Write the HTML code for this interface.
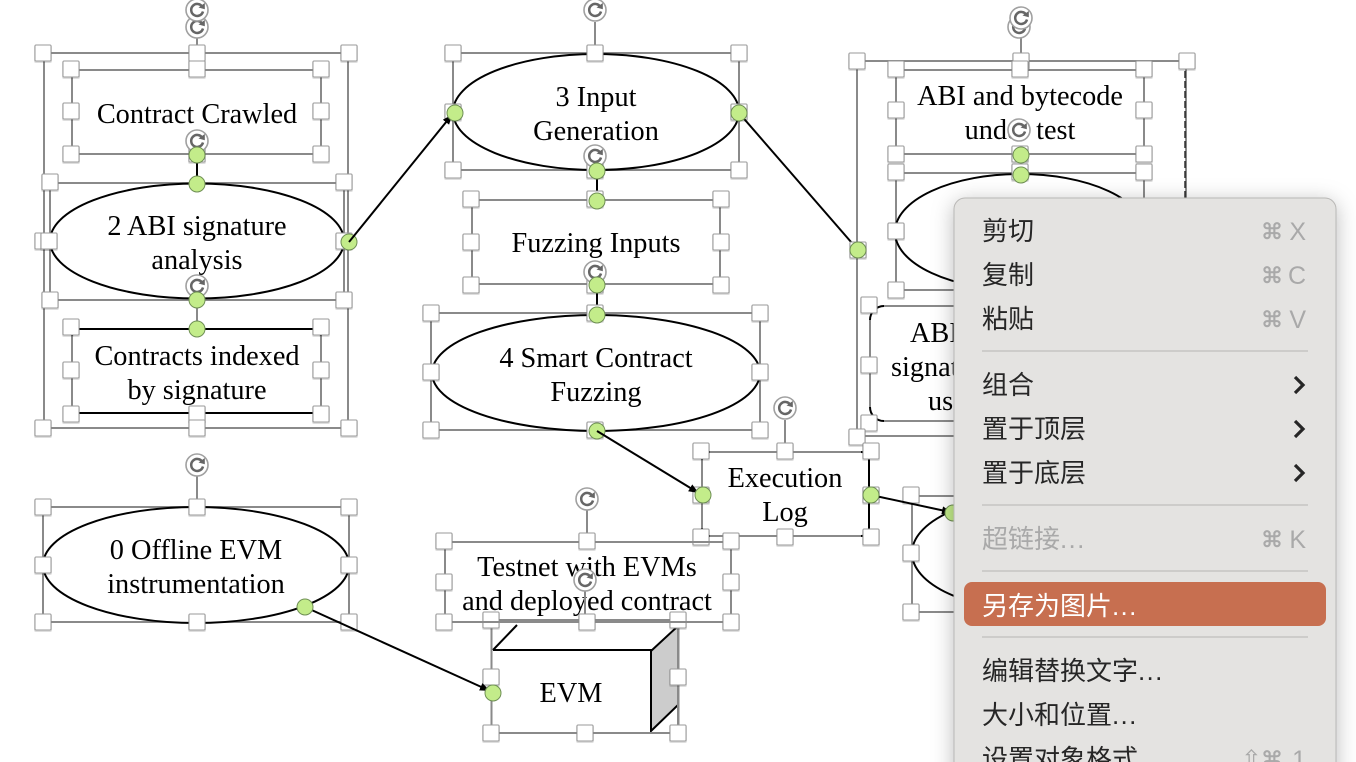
<!DOCTYPE html>
<html><head><meta charset="utf-8"><style>
html,body{margin:0;padding:0;background:#fff;width:1356px;height:762px;overflow:hidden}
svg{display:block}
.t{font-family:"Liberation Serif",serif;font-size:28.3px;fill:#000;text-anchor:middle}
.s{font-family:"Liberation Serif",serif;font-size:28.3px;fill:#000}
.b{fill:none;stroke:#8a8a8a;stroke-width:2}
.w{fill:#fff;stroke:#000;stroke-width:2}
.l{stroke:#000;stroke-width:2;fill:none}
.m{font-family:"Liberation Sans","Noto Sans CJK SC",sans-serif;font-size:26px;fill:#262626}
.g{font-family:"Liberation Sans","DejaVu Sans",sans-serif;font-size:25px;fill:#a9a9a9;text-anchor:end}
.k{font-family:"DejaVu Sans",sans-serif;font-size:22px;fill:#a9a9a9;stroke:#a9a9a9;stroke-width:.5;text-anchor:end}
.d{letter-spacing:1.3px}
.sep{stroke:#cdccca;stroke-width:2}
.c{fill:none;stroke:#262626;stroke-width:3.2}
</style></head><body>
<svg width="1356" height="762" viewBox="0 0 1356 762" xmlns="http://www.w3.org/2000/svg">
<defs>
<g id="h"><rect x="-9" y="-8" width="18" height="18" rx="2" fill="#000" opacity=".13"/><rect x="-8" y="-8" width="16" height="16" rx="1" fill="#fff" stroke="#9a9a9a" stroke-width="1"/></g>
<circle id="o" r="8" fill="#c3ec8a" stroke="#6f8f55" stroke-width="1"/>
<g id="r"><circle r="11" fill="#fff" stroke="#a0a0a0" stroke-width="1.6"/><path d="M5.2 -3.4A6 6 0 1 0 6 1.5" fill="none" stroke="#666" stroke-width="2.5"/><path d="M1.5 -2.5L7.8 -0.8L7.8 -7Z" fill="#666"/></g>
<marker id="a" markerWidth="10" markerHeight="8" refX="8" refY="4" orient="auto" markerUnits="userSpaceOnUse"><path d="M0 0L10 4L0 8Z" fill="#000"/></marker>
<filter id="sh" x="-20%" y="-20%" width="140%" height="140%"><feDropShadow dx="0" dy="4" stdDeviation="11" flood-color="#000" flood-opacity=".28"/></filter>
</defs>
<rect width="1356" height="762" fill="#fff"/>

<!-- Left group -->
<line class="b" x1="197" y1="16" x2="197" y2="53"/>
<rect class="b" x="44" y="53" width="304" height="375"/>
<rect class="w" x="72" y="70" width="249" height="84" rx="8"/>
<rect class="b" x="72" y="70" width="249" height="84"/>
<text class="t" x="197" y="123">Contract Crawled</text>
<line class="l" x1="197" y1="155" x2="197" y2="184"/>
<rect class="b" x="50" y="183" width="294" height="117"/>
<ellipse class="w" cx="197" cy="241" rx="147" ry="57.5"/>
<text class="t" x="197" y="235">2 ABI signature</text>
<text class="t" x="197" y="269">analysis</text>
<line class="b" x1="197" y1="300" x2="197" y2="329"/>
<rect class="w" x="72" y="329" width="249" height="84" rx="8"/>
<line class="b" x1="72" y1="336" x2="72" y2="406"/><line class="b" x1="321" y1="336" x2="321" y2="406"/>
<text class="t" x="197" y="365">Contracts indexed</text>
<text class="t" x="197" y="399">by signature</text>
<use href="#h" x="43" y="53"/><use href="#h" x="197" y="53"/><use href="#h" x="349" y="53"/>
<use href="#h" x="71" y="69"/><use href="#h" x="197" y="69"/><use href="#h" x="321" y="69"/>
<use href="#h" x="71" y="111"/><use href="#h" x="321" y="111"/>
<use href="#h" x="71" y="154"/><use href="#h" x="197" y="154"/><use href="#h" x="321" y="154"/>
<use href="#h" x="50" y="182"/><use href="#h" x="344" y="182"/>
<use href="#h" x="43" y="241"/><use href="#h" x="49" y="241"/><use href="#h" x="344" y="241"/>
<use href="#h" x="50" y="300"/><use href="#h" x="344" y="300"/>
<use href="#h" x="71" y="327"/><use href="#h" x="321" y="327"/>
<use href="#h" x="71" y="370"/><use href="#h" x="321" y="370"/>
<use href="#h" x="71" y="414"/><use href="#h" x="197" y="414"/><use href="#h" x="321" y="414"/>
<use href="#h" x="43" y="428"/><use href="#h" x="197" y="428"/><use href="#h" x="349" y="428"/>
<use href="#r" x="197" y="27"/><use href="#r" x="197" y="10"/>
<use href="#r" x="197" y="141"/><use href="#r" x="197" y="286"/>
<use href="#o" x="197" y="155"/><use href="#o" x="197" y="184"/><use href="#o" x="197" y="300"/><use href="#o" x="197" y="329"/><use href="#o" x="349" y="242"/>

<!-- Middle column -->
<line class="b" x1="595" y1="22" x2="595" y2="53"/>
<rect class="b" x="453" y="53" width="286" height="117"/>
<ellipse class="w" cx="596" cy="112" rx="143" ry="58"/>
<text class="t" x="596" y="106">3 Input</text>
<text class="t" x="596" y="140">Generation</text>
<line class="l" x1="597" y1="170" x2="597" y2="201"/>
<rect class="w" x="472" y="200" width="248" height="84" rx="8"/>
<rect class="b" x="472" y="200" width="248" height="84"/>
<text class="t" x="596" y="252">Fuzzing Inputs</text>
<line class="l" x1="597" y1="285" x2="597" y2="315"/>
<rect class="b" x="431" y="313" width="329" height="117"/>
<ellipse class="w" cx="596" cy="373" rx="164" ry="58"/>
<text class="t" x="596" y="367">4 Smart Contract</text>
<text class="t" x="596" y="401">Fuzzing</text>
<use href="#h" x="453" y="53"/><use href="#h" x="595" y="53"/><use href="#h" x="739" y="53"/>
<use href="#h" x="453" y="112"/><use href="#h" x="739" y="112"/>
<use href="#h" x="453" y="170"/><use href="#h" x="595" y="170"/><use href="#h" x="739" y="170"/>
<use href="#h" x="471" y="199"/><use href="#h" x="595" y="199"/><use href="#h" x="721" y="199"/>
<use href="#h" x="471" y="242"/><use href="#h" x="721" y="242"/>
<use href="#h" x="471" y="285"/><use href="#h" x="595" y="285"/><use href="#h" x="721" y="285"/>
<use href="#h" x="431" y="313"/><use href="#h" x="595" y="313"/><use href="#h" x="760" y="313"/>
<use href="#h" x="431" y="372"/><use href="#h" x="760" y="372"/>
<use href="#h" x="431" y="430"/><use href="#h" x="595" y="430"/><use href="#h" x="760" y="430"/>
<use href="#r" x="595" y="10"/><use href="#r" x="595" y="156"/><use href="#r" x="595" y="272"/>

<!-- Connectors upper -->
<line class="l" x1="349" y1="242" x2="451" y2="116" marker-end="url(#a)"/>
<line class="l" x1="739" y1="113" x2="858" y2="250"/>
<use href="#o" x="455" y="113"/><use href="#o" x="739" y="113"/><use href="#o" x="597" y="171"/><use href="#o" x="597" y="201"/><use href="#o" x="597" y="285"/><use href="#o" x="597" y="315"/><use href="#o" x="597" y="431"/>

<!-- Right group -->
<line class="b" x1="1021" y1="30" x2="1021" y2="61"/>
<rect class="b" x="857" y="61" width="329" height="375"/>
<line x1="1185" y1="61" x2="1185" y2="200" stroke="#000" stroke-width="1.2" stroke-dasharray="7 3"/>
<rect class="w" x="896" y="70" width="248" height="84" rx="8"/>
<rect class="b" x="896" y="70" width="248" height="84"/>
<text class="t" x="1020" y="105">ABI and bytecode</text>
<text class="t" x="1020" y="139">under test</text>
<line class="l" x1="1021" y1="155" x2="1021" y2="175"/>
<rect class="b" x="896" y="173" width="248" height="117"/>
<ellipse class="w" cx="1020" cy="232" rx="125" ry="58"/>
<rect class="w" x="870" y="306" width="300" height="115" rx="14"/>
<line class="b" x1="884" y1="306" x2="1000" y2="306"/><line class="b" x1="884" y1="421" x2="1000" y2="421"/><line class="b" x1="870" y1="320" x2="870" y2="407"/>
<text class="s" x="910" y="342">ABI</text>
<text class="s" x="891" y="376">signatures</text>
<text class="s" x="928" y="410">used</text>
<line class="b" x1="857" y1="436" x2="1000" y2="436"/>
<use href="#h" x="857" y="61"/><use href="#h" x="1021" y="61"/><use href="#h" x="1187" y="61"/>
<use href="#h" x="896" y="69"/><use href="#h" x="1020" y="69"/><use href="#h" x="1144" y="69"/>
<use href="#h" x="896" y="110"/><use href="#h" x="1144" y="110"/>
<use href="#h" x="896" y="154"/><use href="#h" x="1020" y="154"/><use href="#h" x="1144" y="154"/>
<use href="#h" x="896" y="172"/><use href="#h" x="1020" y="172"/><use href="#h" x="1144" y="172"/>
<use href="#h" x="896" y="231"/><use href="#h" x="896" y="290"/>
<use href="#h" x="869" y="305"/><use href="#h" x="869" y="365"/><use href="#h" x="869" y="423"/>
<use href="#h" x="857" y="437"/>
<use href="#r" x="1019" y="27"/><use href="#r" x="1021" y="18"/><use href="#r" x="1019" y="130"/>
<use href="#o" x="1021" y="155"/><use href="#o" x="1021" y="175"/><use href="#h" x="858" y="250"/><use href="#o" x="858" y="250"/>

<!-- Execution log -->
<line class="b" x1="785" y1="420" x2="785" y2="451"/>
<rect class="w" x="702" y="452" width="167" height="84" rx="8"/>
<line class="b" x1="710" y1="452" x2="861" y2="452"/><line class="b" x1="710" y1="536" x2="861" y2="536"/><line class="b" x1="702" y1="460" x2="702" y2="528"/>
<text class="t" x="785" y="487">Execution</text>
<text class="t" x="785" y="521">Log</text>
<use href="#h" x="701" y="451"/><use href="#h" x="785" y="451"/><use href="#h" x="871" y="451"/>
<use href="#h" x="701" y="495"/><use href="#h" x="871" y="495"/>
<use href="#h" x="701" y="537"/><use href="#h" x="785" y="537"/><use href="#h" x="871" y="537"/>
<use href="#r" x="785" y="408"/>
<line class="l" x1="597" y1="431" x2="697" y2="492" marker-end="url(#a)"/>

<!-- Far right ellipse -->
<rect class="b" x="912" y="496" width="240" height="116"/>
<ellipse class="w" cx="1040" cy="553" rx="128" ry="58"/>
<use href="#h" x="911" y="495"/><use href="#h" x="911" y="553"/><use href="#h" x="911" y="612"/>
<line class="l" x1="871" y1="495" x2="950" y2="512" marker-end="url(#a)"/>
<use href="#o" x="703" y="495"/><use href="#o" x="871" y="495"/><use href="#o" x="953" y="513"/>

<!-- Offline EVM -->
<line class="b" x1="197" y1="476" x2="197" y2="507"/>
<rect class="b" x="43" y="507" width="306" height="115"/>
<ellipse class="w" cx="196" cy="565" rx="153" ry="58"/>
<text class="t" x="196" y="559">0 Offline EVM</text>
<text class="t" x="196" y="593">instrumentation</text>
<use href="#h" x="43" y="507"/><use href="#h" x="197" y="507"/><use href="#h" x="349" y="507"/>
<use href="#h" x="43" y="565"/><use href="#h" x="349" y="565"/>
<use href="#h" x="43" y="622"/><use href="#h" x="197" y="622"/><use href="#h" x="349" y="622"/>
<use href="#r" x="197" y="465"/>

<!-- EVM cube -->
<rect class="b" x="491.5" y="620" width="187" height="113"/>
<path d="M651 651L678 626V705L651 731Z" fill="#cccccc" stroke="#000" stroke-width="2"/>
<line class="b" x1="678" y1="620" x2="678" y2="733"/>
<path d="M493 650L517 625" class="l"/>
<rect x="493" y="650" width="158" height="81" fill="#fff"/>
<path d="M493 650H651V731" class="l"/>
<line class="b" x1="491.5" y1="650" x2="491.5" y2="733"/>
<line class="b" x1="491" y1="733" x2="678" y2="733"/>
<text class="t" x="571" y="702">EVM</text>
<use href="#h" x="491" y="620"/><use href="#h" x="678" y="620"/>
<use href="#h" x="491" y="677"/><use href="#h" x="678" y="677"/>
<use href="#h" x="491" y="733"/><use href="#h" x="585" y="733"/><use href="#h" x="678" y="733"/>

<!-- Testnet -->
<line class="b" x1="587" y1="510" x2="587" y2="541"/>
<rect class="b" x="445" y="542" width="286" height="80"/>
<text class="t" x="587" y="576">Testnet with EVMs</text>
<text class="t" x="587" y="610">and deployed contract</text>
<line class="b" x1="585" y1="590" x2="585" y2="622"/>
<use href="#h" x="444" y="541"/><use href="#h" x="587" y="541"/><use href="#h" x="731" y="541"/>
<use href="#h" x="444" y="582"/><use href="#h" x="731" y="582"/>
<use href="#h" x="444" y="622"/><use href="#h" x="587" y="622"/><use href="#h" x="731" y="622"/>
<use href="#r" x="587" y="499"/><use href="#r" x="585" y="580"/>

<line class="l" x1="305" y1="607" x2="488" y2="690" marker-end="url(#a)"/>
<use href="#o" x="305" y="607"/><use href="#o" x="493" y="693"/>

<!-- Context menu -->
<rect x="954" y="198" width="382" height="590" rx="11" fill="#e4e3e1" filter="url(#sh)"/>
<rect x="954" y="198" width="382" height="590" rx="11" fill="#e4e3e1" stroke="#b9b8b6" stroke-width="1"/>
<text class="m" x="982" y="240">剪切</text><text class="k" x="1283" y="239">⌘</text><text class="g" x="1306" y="240">X</text>
<text class="m" x="982" y="284">复制</text><text class="k" x="1283" y="283">⌘</text><text class="g" x="1306" y="284">C</text>
<text class="m" x="982" y="328">粘贴</text><text class="k" x="1283" y="327">⌘</text><text class="g" x="1306" y="328">V</text>
<line class="sep" x1="982" y1="351" x2="1308" y2="351"/>
<text class="m" x="982" y="394">组合</text><path class="c" d="M1295 377L1303 385L1295 393"/>
<text class="m" x="982" y="438">置于顶层</text><path class="c" d="M1295 421L1303 429L1295 437"/>
<text class="m" x="982" y="482">置于底层</text><path class="c" d="M1295 465L1303 473L1295 481"/>
<line class="sep" x1="982" y1="505" x2="1308" y2="505"/>
<text class="m" x="982" y="548" style="fill:#a9a9a9">超链接<tspan class="d">...</tspan></text><text class="k" x="1283" y="547">⌘</text><text class="g" x="1306" y="548">K</text>
<line class="sep" x1="982" y1="571" x2="1308" y2="571"/>
<rect x="964" y="582" width="362" height="44" rx="8" fill="#c76f50"/>
<text class="m" x="982" y="615" style="fill:#fff">另存为图片<tspan class="d">...</tspan></text>
<line class="sep" x1="982" y1="637" x2="1308" y2="637"/>
<text class="m" x="982" y="680">编辑替换文字<tspan class="d">...</tspan></text>
<text class="m" x="982" y="724">大小和位置<tspan class="d">...</tspan></text>
<text class="m" x="982" y="768">设置对象格式</text><text class="g" x="1262" y="768">⇧</text><text class="k" x="1283" y="767">⌘</text><text class="g" x="1306" y="768">1</text>
</svg>
</body></html>
